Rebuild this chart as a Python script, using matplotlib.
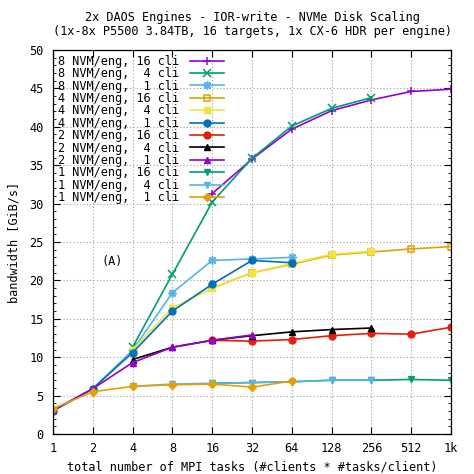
import matplotlib
matplotlib.use('Agg')
import matplotlib.pyplot as plt
from matplotlib.ticker import MultipleLocator

plt.rcParams['font.family'] = ['DejaVu Sans Mono']
plt.rcParams['font.size'] = 8.6

# x = total MPI tasks (clients * tasks/client)
x_1cli = [1, 2, 4, 8, 16, 32, 64]
x_4cli = [4, 8, 16, 32, 64, 128, 256]
x_16cli = [16, 32, 64, 128, 256, 512, 1024]
x_2nvm_1cli = [1, 2, 4, 8, 16, 32]

# bandwidth GiB/s
bw_8_16 = [31.3, 35.8, 39.7, 42.1, 43.5, 44.6, 44.9]
bw_8_4 = [11.3, 20.8, 30.2, 35.9, 40.1, 42.4, 43.8]
bw_8_1 = [3.0, 5.9, 10.9, 18.4, 22.6, 22.8, 23.0]
bw_4_16 = [19.0, 21.0, 22.1, 23.3, 23.7, 24.1, 24.4]
bw_4_4 = [11.0, 16.4, 19.0, 21.0, 22.2, 23.4, 23.8]
bw_4_1 = [3.0, 5.9, 10.6, 16.0, 19.5, 22.6, 22.3]
bw_2_16 = [12.2, 12.1, 12.3, 12.8, 13.1, 13.0, 13.9]
bw_2_4 = [9.7, 11.3, 12.2, 12.8, 13.3, 13.6, 13.8]
bw_2_1 = [3.1, 5.9, 9.3, 11.3, 12.2, 12.9]
bw_1_16 = [6.6, 6.7, 6.8, 7.0, 7.0, 7.1, 7.0]
bw_1_4 = [6.2, 6.5, 6.6, 6.7, 6.8, 7.0, 7.0]
bw_1_1 = [3.3, 5.5, 6.2, 6.4, 6.5, 6.1, 6.9]

xticks = [1, 2, 4, 8, 16, 32, 64, 128, 256, 512, 1024]
xticklabels = ['1', '2', '4', '8', '16', '32', '64', '128', '256', '512', '1k']

series = [
    ('8 NVM/eng, 16 cli', x_16cli, bw_8_16, '#9400d3', '+'),
    ('8 NVM/eng,  4 cli', x_4cli, bw_8_4, '#009e73', 'x'),
    ('8 NVM/eng,  1 cli', x_1cli, bw_8_1, '#56b4e9', (8, 2, 0)),
    ('4 NVM/eng, 16 cli', x_16cli, bw_4_16, '#e69f00', 'open_s'),
    ('4 NVM/eng,  4 cli', x_4cli, bw_4_4, '#f0e442', 's'),
    ('4 NVM/eng,  1 cli', x_1cli, bw_4_1, '#0072b2', 'o'),
    ('2 NVM/eng, 16 cli', x_16cli, bw_2_16, '#e51e10', 'o'),
    ('2 NVM/eng,  4 cli', x_4cli, bw_2_4, 'black', '^'),
    ('2 NVM/eng,  1 cli', x_2nvm_1cli, bw_2_1, '#9400d3', '^'),
    ('1 NVM/eng, 16 cli', x_16cli, bw_1_16, '#009e73', 'v'),
    ('1 NVM/eng,  4 cli', x_4cli, bw_1_4, '#56b4e9', 'v'),
    ('1 NVM/eng,  1 cli', x_1cli, bw_1_1, '#e69f00', 'D'),
]

fig = plt.figure(figsize=(4.74, 4.74), dpi=100)
ax = fig.add_axes([0.1118, 0.0844, 0.8397, 0.8101])

for label, xs, ys, col, mk in series:
    kw = dict(color=col, lw=1.2, label=label)
    if mk == 'open_s':
        ax.plot(xs, ys, marker='s', ms=5, mfc='none', mec=col, mew=1.1, **kw)
    elif mk == 'D':
        ax.plot(xs, ys, marker='D', ms=4, mec=col, **kw)
    elif mk in ('+', 'x', (8, 2, 0)):
        ax.plot(xs, ys, marker=mk, ms=6, mew=1.1, **kw)
    else:
        ax.plot(xs, ys, marker=mk, ms=5, mec=col, **kw)

ax.set_xscale('log', base=2)
ax.set_xlim(1, 1024)
ax.set_ylim(0, 50)
ax.set_xticks(xticks)
ax.set_xticklabels(xticklabels)
ax.xaxis.set_minor_locator(plt.NullLocator())
ax.yaxis.set_major_locator(MultipleLocator(5))
ax.yaxis.set_minor_locator(MultipleLocator(1))
ax.tick_params(which='both', direction='in', top=True, right=True)
ax.tick_params(which='major', length=5, width=0.8)
ax.tick_params(which='minor', length=2.5, width=0.6)
ax.tick_params(axis='x', pad=6)
ax.tick_params(axis='y', pad=7)
ax.grid(True, which='major', ls=(0, (1, 2)), color='#a0a0a0', lw=0.8)
for sp in ax.spines.values():
    sp.set_linewidth(0.9)

ax.set_xlabel('total number of MPI tasks (#clients * #tasks/client)', labelpad=4)
ax.set_ylabel('bandwidth [GiB/s]', labelpad=6)
ax.set_title('2x DAOS Engines - IOR-write - NVMe Disk Scaling\n'
             '(1x-8x P5500 3.84TB, 16 targets, 1x CX-6 HDR per engine)',
             fontsize=8.6, linespacing=1.05, pad=11)

ax.text(2.8, 22.4, '(A)', ha='center', va='center')

ax.legend(loc='upper left', markerfirst=False, frameon=False,
          handlelength=2.85, handletextpad=0.9, labelspacing=-0.05,
          borderaxespad=0.2, borderpad=0.2, fontsize=8.6)

fig.savefig('out.png', dpi=100)
